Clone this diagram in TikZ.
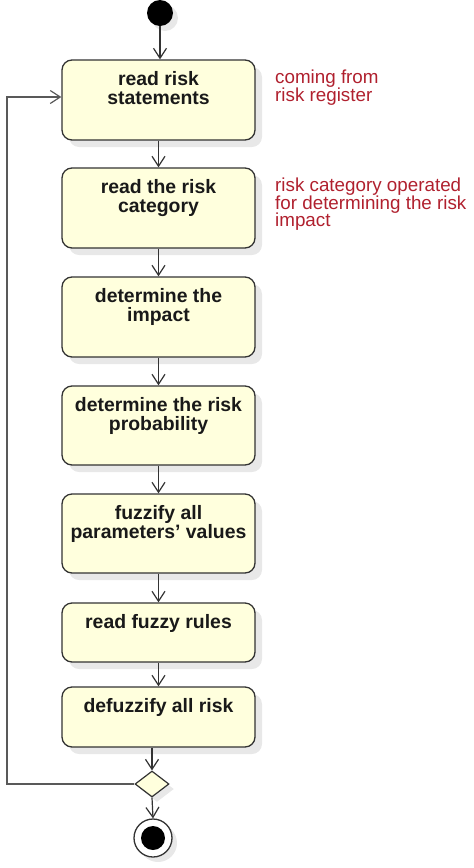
\documentclass[tikz,border=0pt]{standalone}
\usepackage{fontspec}
\setmainfont{Liberation Sans}
\usetikzlibrary{arrows.meta,shadows,shapes.geometric}
\definecolor{boxfill}{HTML}{FFFFDD}
\definecolor{linecol}{HTML}{333333}
\definecolor{notered}{HTML}{B0202E}
\tikzset{
  actbox/.style={draw=linecol, line width=1.3pt, fill=boxfill, rounded corners=10pt,
    minimum width=193pt, minimum height=#1, inner sep=0pt,
    drop shadow={shadow xshift=7pt, shadow yshift=-7pt, fill=black!9, opacity=1}},
  acttext/.style={anchor=north, inner sep=0pt, align=center,
    font=\fontsize{19.4}{19}\selectfont\bfseries, text=black!90},
  notetext/.style={anchor=north west, inner sep=0pt, align=left,
    font=\fontsize{18.8}{17.8}\selectfont, text=notered},
  flow/.style={draw=linecol, line width=1.2pt, -{Straight Barb[length=10pt,width=13pt,line width=1.2pt]}},
}
\begin{document}
\begin{tikzpicture}[x=1pt,y=-1pt]
\useasboundingbox (0,0) rectangle (474,868);
% start
\node[circle, fill=black, minimum size=26pt, inner sep=0pt,
  drop shadow={shadow xshift=5pt, shadow yshift=-5pt, fill=black!9, opacity=1}] (start) at (160,13) {};
% boxes
\node[actbox=80pt] (b1) at (158.5,100) {};
\node[actbox=80pt] (b2) at (158.5,208) {};
\node[actbox=80pt] (b3) at (158.5,317) {};
\node[actbox=79pt] (b4) at (158.5,425.5) {};
\node[actbox=79pt] (b5) at (158.5,533.5) {};
\node[actbox=59pt] (b6) at (158.5,632.5) {};
\node[actbox=60pt] (b7) at (158.5,717) {};
% box texts
\node[acttext] (t1) at (158.5,71) {read risk\\statements};
\node[acttext] (t2) at (158.5,179) {read the risk\\category};
\node[acttext] (t3) at (158.5,288) {determine the\\impact};
\node[acttext] (t4) at (158.5,397) {determine the risk\\probability};
\node[acttext] (t5) at (158.5,505) {fuzzify all\\parameters\symbol{39} values};
\node[acttext] (t6) at (158.5,614) {read fuzzy rules};
\node[acttext] (t7) at (158.5,698) {defuzzify all risk};
% notes
\node[notetext] (n1) at (275,69.5) {coming from\\risk register};
\node[notetext] (n2) at (275,177.5) {risk category operated\\for determining the risk\\impact};
% decision and end
\node[diamond, draw=linecol, line width=1.2pt, fill=boxfill, minimum width=34pt, minimum height=26pt,
  inner sep=0pt, aspect=1.3,
  drop shadow={shadow xshift=5pt, shadow yshift=-5pt, fill=black!9, opacity=1}] (dec) at (152,784) {};
\node[circle, draw=linecol, line width=1.3pt, fill=white, minimum size=38pt, inner sep=0pt,
  drop shadow={shadow xshift=5pt, shadow yshift=-5pt, fill=black!9, opacity=1}] (fin) at (153,838) {};
\node[circle, fill=black, minimum size=24pt, inner sep=0pt] (fininner) at (fin.center) {};
% flows
\draw[flow] (start.south) -- (start.south |- b1.north);
\draw[flow] (b1.south) -- (b2.north);
\draw[flow] (b2.south) -- (b3.north);
\draw[flow] (b3.south) -- (b4.north);
\draw[flow] (b4.south) -- (b5.north);
\draw[flow] (b5.south) -- (b6.north);
\draw[flow] (b6.south) -- (b7.north);
\draw[flow] (b7.south -| dec.north) -- (dec.north);
\draw[flow] (dec.south) -- (fin.north);
\coordinate (lp) at (7,97);
\draw[flow, draw=black!65, line width=1.5pt] (dec.west) -| (lp) -- (lp -| b1.west);
\end{tikzpicture}
\end{document}
